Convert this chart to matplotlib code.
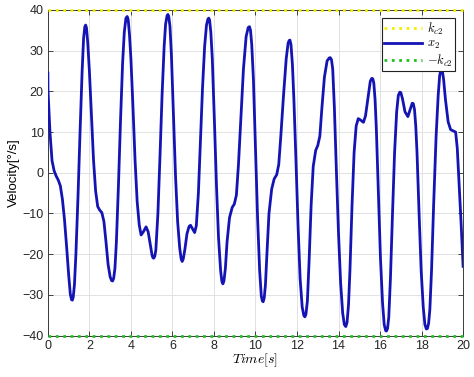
import numpy as np
import matplotlib
matplotlib.use("Agg")
import matplotlib.pyplot as plt

plt.rcParams['font.family'] = ['Liberation Sans', 'DejaVu Sans']
plt.rcParams['mathtext.fontset'] = 'cm'

# Límite de velocidad
k_c2 = 40

# Curva x2 (t en s, velocidad en °/s)
time_s = [
    0.0, 0.005, 0.05, 0.1, 0.2, 0.3, 0.4, 0.5, 0.6, 0.7, 0.8, 0.9, 1.0, 1.08, 1.14,
    1.18, 1.22, 1.28, 1.35, 1.45, 1.55, 1.65, 1.72, 1.78, 1.82, 1.86, 1.92, 2.0,
    2.1, 2.2, 2.3, 2.4, 2.5, 2.6, 2.7, 2.8, 2.9, 3.0, 3.07, 3.12, 3.17, 3.23,
    3.3, 3.4, 3.5, 3.6, 3.68, 3.76, 3.82, 3.87, 3.93, 4.0, 4.1, 4.2, 4.3, 4.4,
    4.49, 4.6, 4.73, 4.83, 4.93, 5.02, 5.06, 5.1, 5.15, 5.2, 5.3, 5.4, 5.5, 5.6,
    5.67, 5.74, 5.78, 5.82, 5.88, 5.95, 6.05, 6.15, 6.25, 6.35, 6.42, 6.47, 6.52,
    6.6, 6.7, 6.8, 6.87, 6.97, 7.07, 7.15, 7.25, 7.35, 7.45, 7.55, 7.64, 7.71,
    7.75, 7.79, 7.85, 7.92, 8.02, 8.12, 8.22, 8.32, 8.38, 8.43, 8.48, 8.55, 8.63,
    8.75, 8.88, 8.98, 9.08, 9.18, 9.3, 9.42, 9.55, 9.65, 9.71, 9.76, 9.82, 9.9,
    10.0, 10.1, 10.2, 10.28, 10.33, 10.37, 10.42, 10.48, 10.55, 10.65, 10.78,
    10.9, 11.02, 11.12, 11.22, 11.35, 11.48, 11.57, 11.62, 11.66, 11.71, 11.78,
    11.85, 11.95, 12.05, 12.15, 12.25, 12.33, 12.38, 12.43, 12.5, 12.58, 12.68,
    12.78, 12.9, 13.0, 13.1, 13.2, 13.32, 13.45, 13.55, 13.6, 13.66, 13.72, 13.8,
    13.9, 14.0, 14.1, 14.2, 14.28, 14.35, 14.41, 14.48, 14.55, 14.65, 14.75,
    14.85, 14.95, 15.05, 15.2, 15.3, 15.42, 15.53, 15.6, 15.65, 15.7, 15.76,
    15.82, 15.92, 16.02, 16.12, 16.2, 16.27, 16.31, 16.36, 16.42, 16.5, 16.6,
    16.7, 16.8, 16.88, 16.95, 17.0, 17.08, 17.2, 17.34, 17.45, 17.55, 17.6,
    17.66, 17.72, 17.78, 17.88, 17.98, 18.08, 18.16, 18.23, 18.28, 18.34, 18.4,
    18.48, 18.58, 18.7, 18.8, 18.87, 18.92, 18.96, 19.0, 19.06, 19.15, 19.28,
    19.4, 19.52, 19.64, 19.72, 19.8, 19.9, 20.0,
]
velocity = [
    24.5, 20.3, 15.5, 10.0, 3.0, 0.5, -0.8, -1.8, -3.2, -6.5, -11.5, -18.0, -25.0, -29.8, -31.2,
    -31.3, -30.6, -27.5, -20.0, -6.0, 10.0, 25.0, 33.0, 35.9, 36.3, 35.6, 32.0, 25.0,
    14.0, 3.0, -4.5, -8.3, -9.2, -9.8, -12.0, -17.0, -22.5, -25.6, -26.5, -26.6, -25.9, -23.5,
    -17.0, -3.0, 13.0, 27.0, 34.5, 38.0, 38.4, 37.6, 34.0, 28.0, 16.0, 3.0, -7.0, -12.8,
    -15.3, -14.5, -13.3, -14.5, -17.5, -20.3, -20.9, -21.0, -20.5, -19.0, -10.0, 4.0, 19.0, 31.0,
    36.5, 38.6, 38.9, 38.5, 36.0, 29.0, 14.0, -1.0, -12.0, -18.5, -21.2, -21.8, -21.2,
    -18.8, -15.0, -13.2, -12.9, -13.8, -14.7, -13.0, -5.0, 8.0, 21.0, 31.0, 36.3, 37.8,
    38.0, 37.5, 34.5, 28.0, 13.0, -3.0, -16.0, -24.0, -26.7, -27.3, -26.6, -23.5, -17.0,
    -11.0, -8.5, -7.7, -5.5, 2.0, 14.0, 25.5, 33.5, 35.7, 35.9, 35.0, 31.5, 23.0,
    6.0, -11.0, -24.0, -30.3, -31.5, -31.7, -30.8, -27.5, -20.0, -10.0, -4.0,
    -1.5, -0.5, 2.0, 9.0, 19.0, 28.0, 31.8, 32.5, 32.6, 31.5, 26.5,
    18.0, 3.0, -13.0, -26.0, -33.0, -35.1, -35.4, -34.8, -31.5, -22.0, -8.0,
    1.5, 5.5, 6.7, 9.0, 16.0, 23.5, 27.5, 28.2, 28.3, 27.8, 25.5, 16.0,
    0.0, -15.0, -27.0, -34.5, -37.3, -37.8, -36.8, -32.5, -24.0, -8.0, 5.0,
    11.5, 13.3, 13.0, 12.4, 14.0, 18.5, 22.5, 23.2, 23.1, 22.0, 18.0,
    11.0, -5.0, -21.0, -32.0, -37.3, -38.8, -38.9, -38.3, -35.5, -26.0, -10.0,
    5.0, 15.0, 19.0, 19.8, 19.7, 18.2, 15.0, 13.8, 15.5, 17.1, 17.0,
    15.5, 11.5, 5.0, -10.0, -24.0, -33.0, -37.3, -38.4, -38.3, -37.0, -33.5,
    -24.0, -8.0, 9.0, 19.0, 23.8, 25.2, 25.4, 25.0, 23.0, 18.0, 12.5,
    10.6, 10.3, 10.0, 6.0, -2.0, -12.0, -23.0,
]

x_ticks = [0, 2, 4, 6, 8, 10, 12, 14, 16, 18, 20]
y_ticks = [-40, -30, -20, -10, 0, 10, 20, 30, 40]

fig = plt.figure(figsize=(4.74, 3.77), dpi=100)
ax = fig.add_axes([0.101, 0.110, 0.876, 0.8635])

ax.plot([x_ticks[0], x_ticks[-1]], [k_c2, k_c2], ':', color='#f0f000', lw=2.0,
        label=r'$k_{c2}$', clip_on=False, zorder=3)
ax.plot(time_s, velocity, '-', color='#1414b4', lw=2.0, label=r'$x_2$', zorder=4)
ax.plot([x_ticks[0], x_ticks[-1]], [-k_c2, -k_c2], ':', color='#22c022', lw=2.0,
        label=r'$-k_{c2}$', clip_on=False, zorder=3)

ax.set_xlim(0, 20)
ax.set_ylim(-40, 40)
ax.set_xticks(x_ticks)
ax.set_yticks(y_ticks)
ax.tick_params(direction='in', length=3.5, width=0.6, top=True, right=True,
               labelsize=9, colors='#262626', pad=3)
ax.grid(True, color='#e2e2e2', lw=0.7)
ax.set_axisbelow(True)
for s in ax.spines.values():
    s.set_color('#3a3a3a')
    s.set_linewidth(0.7)

ax.set_xlabel(r'$Time[s]$', fontsize=10, labelpad=0)
ax.set_ylabel('Velocity[°/s]', fontsize=9.5, labelpad=2)

leg = ax.legend(loc='upper right', fontsize=9, fancybox=False, framealpha=1,
                edgecolor='#222222', borderaxespad=0.65, handlelength=3.0,
                handletextpad=0.4, borderpad=0.2, labelspacing=0.12)
leg.get_frame().set_linewidth(0.8)

fig.savefig('out.png', dpi=100)
